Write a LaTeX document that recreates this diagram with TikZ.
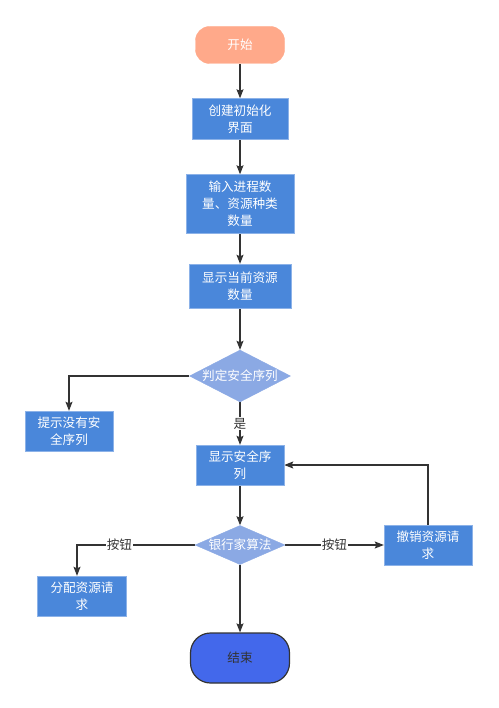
\documentclass[tikz,border=0pt]{standalone}
\usepackage{fontspec}
\setmainfont{Noto Sans CJK SC}
\usetikzlibrary{shapes.geometric,arrows.meta}
\definecolor{startfill}{RGB}{255,169,138}
\definecolor{boxfill}{RGB}{74,135,218}
\definecolor{boxedge}{RGB}{140,178,232}
\definecolor{decfill}{RGB}{139,169,228}
\definecolor{endfill}{RGB}{67,104,235}
\definecolor{linegray}{RGB}{51,51,51}
\pgfdeclarelayer{edgelayer}
\pgfdeclarelayer{nodelayer}
\pgfsetlayers{edgelayer,nodelayer,main}
\tikzstyle{cjk}=[font=\fontsize{12.6pt}{17pt}\selectfont, align=center]
\tikzstyle{startnode}=[cjk,rectangle,rounded corners=14pt,fill=startfill,draw=startfill,text=white,minimum width=89pt,minimum height=37pt]
\tikzstyle{endnode}=[cjk,rectangle,rounded corners=20pt,fill=endfill,draw=linegray,line width=1.2pt,text=linegray,minimum width=99pt,minimum height=50pt]
\tikzstyle{process}=[cjk,rectangle,fill=boxfill,draw=boxedge,text=white,inner sep=0pt]
\tikzstyle{decision}=[cjk,diamond,fill=decfill,draw=decfill,text=white,inner sep=0pt]
\tikzstyle{flow}=[-{Stealth[length=9pt,width=7pt,inset=1.5pt]},draw=linegray,line width=1.2pt]
\tikzstyle{edgetext}=[cjk,fill=white,text=linegray,inner sep=1pt]

\begin{document}
\begin{tikzpicture}[x=1pt,y=-1pt]
	\useasboundingbox (0,0) rectangle (498,708);
	\begin{pgfonlayer}{nodelayer}
		\node [style=startnode] (start) at (240, 45) {开始};
		\node [style=process, minimum width=96pt, minimum height=41pt] (init) at (240, 119) {创建初始化\\界面};
		\node [style=process, minimum width=108pt, minimum height=59pt] (input) at (240, 204) {输入进程数\\量、资源种类\\数量};
		\node [style=process, minimum width=102pt, minimum height=44pt] (show) at (240, 286) {显示当前资源\\数量};
		\node [style=decision, aspect=2, minimum width=101pt, minimum height=52pt] (judge) at (240, 376) {判定安全序列};
		\node [style=process, minimum width=88pt, minimum height=40pt] (nosafe) at (69, 431) {提示没有安\\全序列};
		\node [style=process, minimum width=88pt, minimum height=40pt] (safe) at (240, 465) {显示安全序\\列};
		\node [style=decision, aspect=2.3, minimum width=88pt, minimum height=38pt] (banker) at (240, 545) {银行家算法};
		\node [style=process, minimum width=88pt, minimum height=40pt] (undo) at (428, 545) {撤销资源请\\求};
		\node [style=process, minimum width=89pt, minimum height=40pt] (alloc) at (82, 596) {分配资源请\\求};
		\node [style=endnode] (stop) at (240, 658) {结束};
	\end{pgfonlayer}
	\begin{pgfonlayer}{edgelayer}
		\draw [style=flow] (start) to (init);
		\draw [style=flow] (init) to (input);
		\draw [style=flow] (input) to (show);
		\draw [style=flow] (show) to (judge);
		\draw [style=flow] (judge.west) -| (nosafe.north);
		\draw [style=flow] (judge) to node [style=edgetext] {是} (safe);
		\draw [style=flow] (safe) to (banker);
		\draw [style=flow] (banker) to node [style=edgetext] {按钮} (undo);
		\draw [style=flow] (undo.north) |- (safe.east);
		\draw [style=flow] (banker.west) -| node [style=edgetext, pos=0.32] {按钮} ([xshift=-5pt]alloc.north);
		\draw [style=flow] (banker) to (stop);
	\end{pgfonlayer}
\end{tikzpicture}
\end{document}
